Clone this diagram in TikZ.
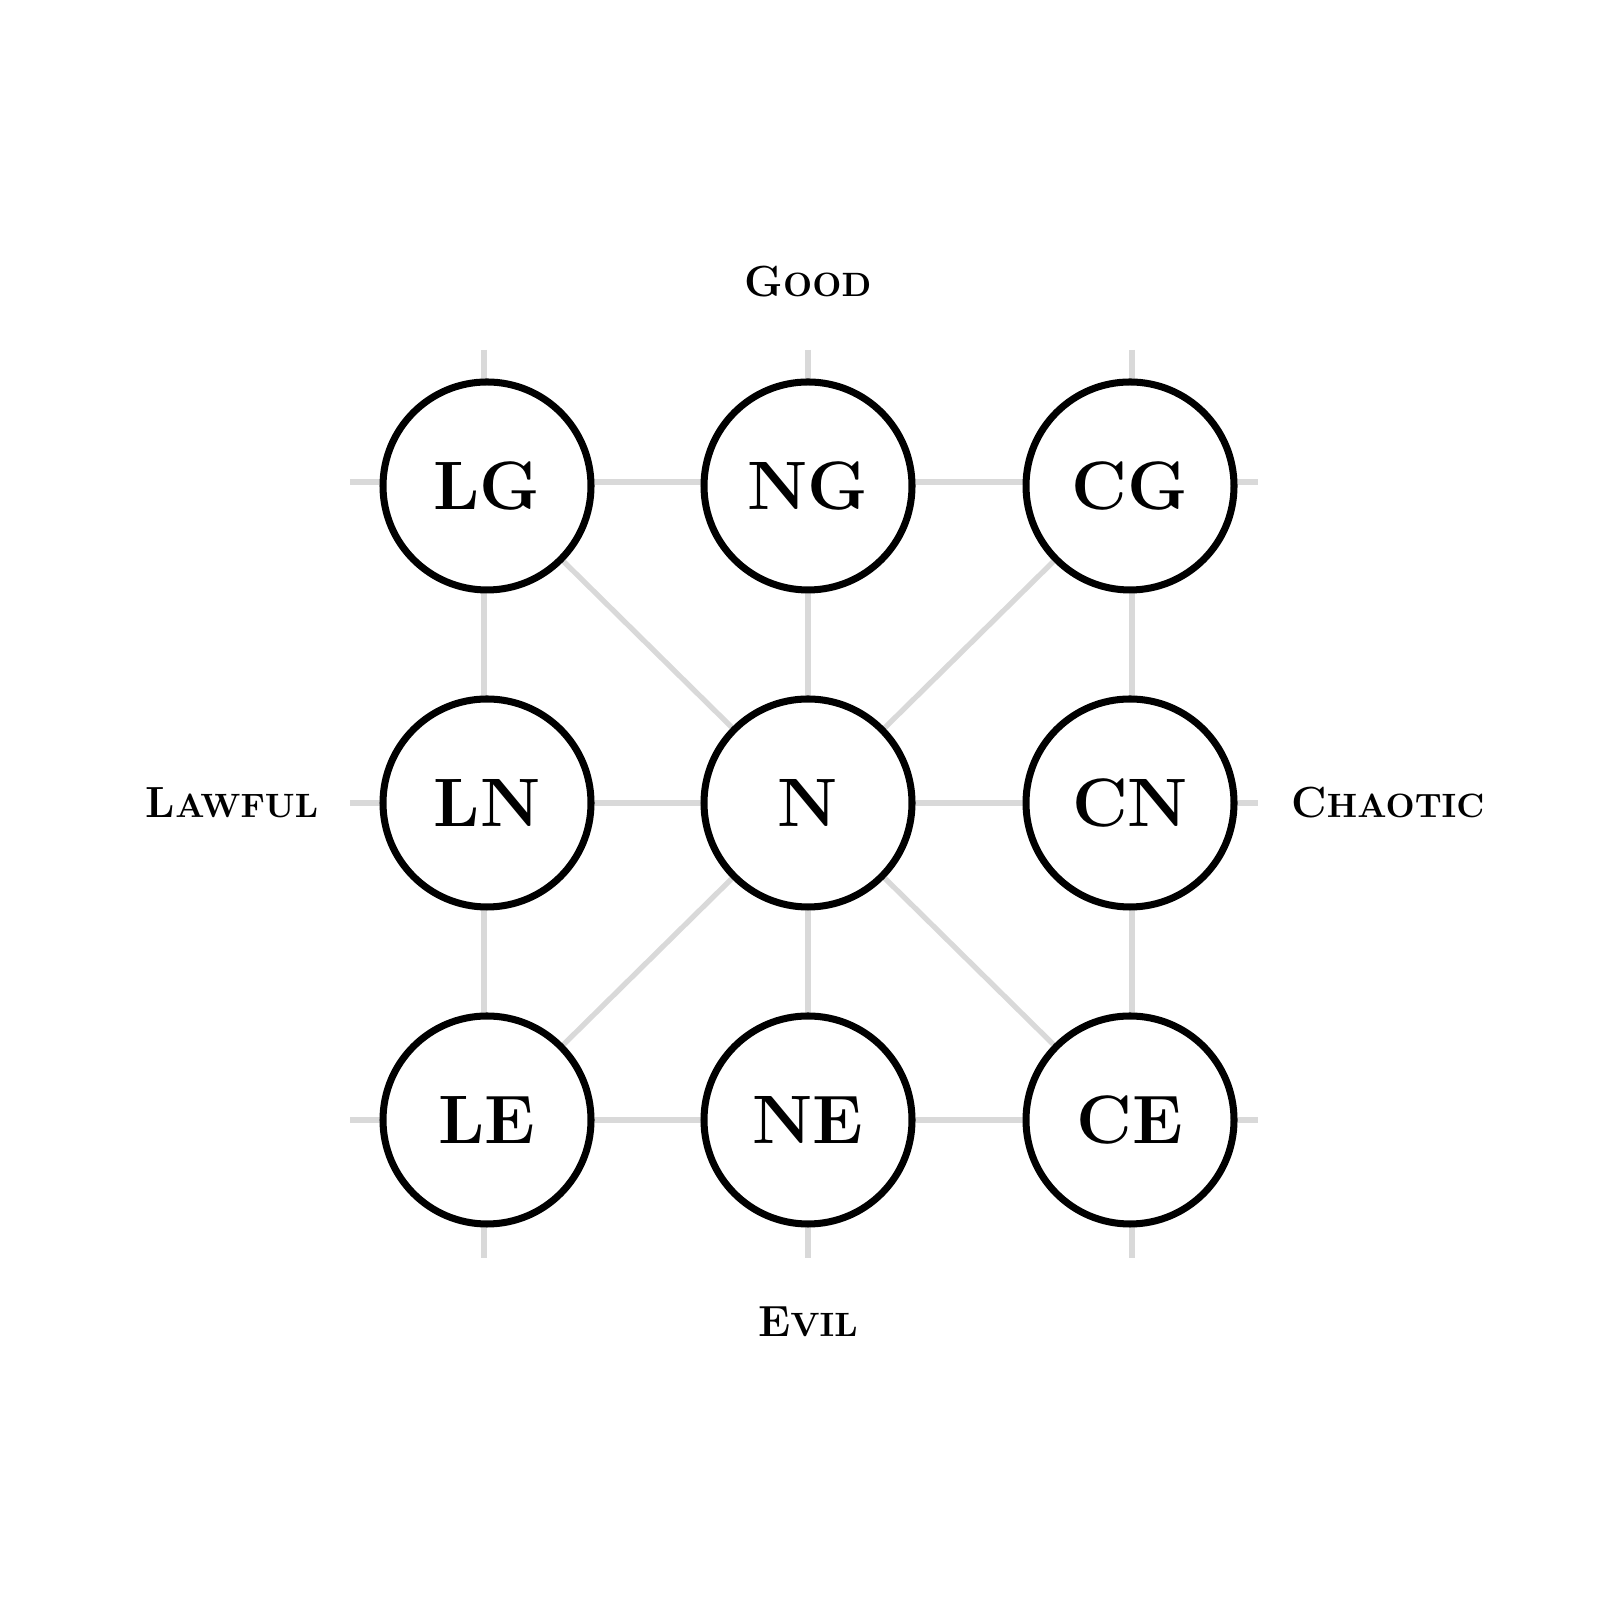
\documentclass[tikz,border=0pt]{standalone}
\newcommand{\mysc}[2]{#1{\fontsize{9.6}{12}\selectfont #2}}
\begin{document}
\begin{tikzpicture}[x=1cm,y=1cm,
  al/.style={circle,draw=black,line width=2pt,fill=white,minimum size=2.08cm,inner sep=0pt,font=\fontsize{19.5}{24}\selectfont\bfseries},
  ax/.style={font=\fontsize{12.4}{15}\selectfont\bfseries},
  gl/.style={draw=black!15,line width=1.5pt}]
\useasboundingbox (0,0) rectangle (16,15.97);
\coordinate (h1a) at (3.5,11.15); \coordinate (h1b) at (12.58,11.15);
\coordinate (h2a) at (3.5,7.94); \coordinate (h2b) at (12.58,7.94);
\coordinate (h3a) at (3.5,4.77); \coordinate (h3b) at (12.58,4.77);
\coordinate (v1a) at (4.84,12.47); \coordinate (v1b) at (4.84,3.39);
\coordinate (v2a) at (8.08,12.47); \coordinate (v2b) at (8.08,3.39);
\coordinate (v3a) at (11.32,12.47); \coordinate (v3b) at (11.32,3.39);
\foreach \a in {h1,h2,h3,v1,v2,v3} \draw[gl] (\a a) -- (\a b);
\coordinate (dLG) at (4.87,11.11); \coordinate (dCE) at (11.30,4.77);
\coordinate (dCG) at (11.30,11.11); \coordinate (dLE) at (4.87,4.77);
\draw[gl] (dLG) -- (dCE); \draw[gl] (dCG) -- (dLE);
\node[al] (LG) at (4.87,11.11) {LG};
\node[al] (NG) at (8.08,11.11) {NG};
\node[al] (CG) at (11.30,11.11) {CG};
\node[al] (LN) at (4.87,7.94) {LN};
\node[al] (N) at (8.08,7.94) {N};
\node[al] (CN) at (11.30,7.94) {CN};
\node[al] (LE) at (4.87,4.77) {LE};
\node[al] (NE) at (8.08,4.77) {NE};
\node[al] (CE) at (11.30,4.77) {CE};
\node[ax] (good) at (8.08,13.15) {\mysc{G}{OOD}};
\node[ax] (evil) at (8.08,2.75) {\mysc{E}{VIL}};
\node[ax] (lawful) at (2.32,7.94) {\mysc{L}{AWFUL}};
\node[ax] (chaotic) at (13.88,7.94) {\mysc{C}{HAOTIC}};
\end{tikzpicture}
\end{document}
